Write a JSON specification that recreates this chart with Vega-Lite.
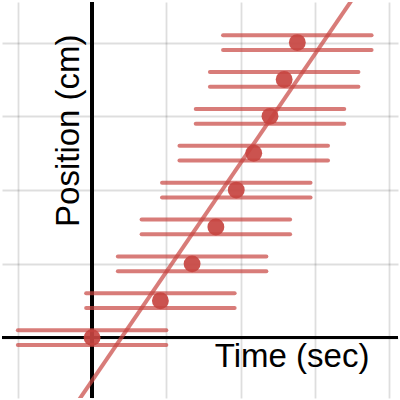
{
  "$schema": "https://vega.github.io/schema/vega-lite/v6.json",
  "width": 400,
  "height": 400,
  "autosize": {"type": "fit", "contains": "padding"},
  "padding": 0,
  "background": "white",
  "config": {"view": {"stroke": null}},
  "datasets": {
    "obs": [
      {"t": 0.0, "pos": 0.0, "tlo": -1.0, "thi": 1.0, "plo": -0.1, "phi": 0.1},
      {"t": 0.92, "pos": 0.5, "tlo": -0.08, "thi": 1.92, "plo": 0.4, "phi": 0.6},
      {"t": 1.347, "pos": 1.0, "tlo": 0.347, "thi": 2.347, "plo": 0.9, "phi": 1.1},
      {"t": 1.667, "pos": 1.5, "tlo": 0.667, "thi": 2.667, "plo": 1.4, "phi": 1.6},
      {"t": 1.942, "pos": 2.0, "tlo": 0.942, "thi": 2.942, "plo": 1.9, "phi": 2.1},
      {"t": 2.177, "pos": 2.5, "tlo": 1.177, "thi": 3.177, "plo": 2.4, "phi": 2.6},
      {"t": 2.396, "pos": 3.0, "tlo": 1.396, "thi": 3.396, "plo": 2.9, "phi": 3.1},
      {"t": 2.587, "pos": 3.5, "tlo": 1.587, "thi": 3.587, "plo": 3.4, "phi": 3.6},
      {"t": 2.764, "pos": 4.0, "tlo": 1.764, "thi": 3.764, "plo": 3.9, "phi": 4.1}
    ],
    "fit": [
      {"t": -0.2, "pos": -0.878},
      {"t": 3.6, "pos": 4.727}
    ]
  },
  "layer": [
    {
      "data": {"name": "obs"},
      "mark": {"type": "rule", "color": "black", "strokeWidth": 3},
      "encoding": {
        "x": {
          "datum": 0, "type": "quantitative",
          "scale": {"domain": [-1.2133, 4.12], "nice": false, "zero": false},
          "axis": {"values": [-1, 0, 1, 2, 3, 4], "grid": true, "domain": false, "ticks": false, "labels": false, "title": null, "gridColor": "#000000", "gridOpacity": 0.13, "gridWidth": 1.8}
        }
      }
    },
    {
      "data": {"name": "obs"},
      "mark": {"type": "rule", "color": "black", "strokeWidth": 3},
      "encoding": {
        "y": {
          "datum": 0, "type": "quantitative",
          "scale": {"domain": [-0.8188, 4.55], "nice": false, "zero": false},
          "axis": {"values": [0, 1, 2, 3, 4], "grid": true, "domain": false, "ticks": false, "labels": false, "title": null, "gridColor": "#000000", "gridOpacity": 0.13, "gridWidth": 1.8}
        }
      }
    },
    {
      "data": {"name": "obs"},
      "mark": {"type": "rule", "color": "#c74440", "opacity": 0.7, "strokeWidth": 4, "strokeCap": "round"},
      "encoding": {
        "x": {"field": "tlo", "type": "quantitative"},
        "x2": {"field": "thi"},
        "y": {"field": "phi", "type": "quantitative"}
      }
    },
    {
      "data": {"name": "obs"},
      "mark": {"type": "rule", "color": "#c74440", "opacity": 0.7, "strokeWidth": 4, "strokeCap": "round"},
      "encoding": {
        "x": {"field": "tlo", "type": "quantitative"},
        "x2": {"field": "thi"},
        "y": {"field": "plo", "type": "quantitative"}
      }
    },
    {
      "data": {"name": "obs"},
      "mark": {"type": "circle", "color": "#c74440", "opacity": 0.92, "size": 285},
      "encoding": {
        "x": {"field": "t", "type": "quantitative"},
        "y": {"field": "pos", "type": "quantitative"}
      }
    },
    {
      "data": {"name": "fit"},
      "mark": {"type": "line", "color": "#c74440", "opacity": 0.7, "strokeWidth": 4, "clip": true},
      "encoding": {
        "x": {"field": "t", "type": "quantitative"},
        "y": {"field": "pos", "type": "quantitative"}
      }
    },
    {
      "data": {"values": [{}]},
      "mark": {"type": "text", "text": "Time (sec)", "font": "Liberation Sans", "fontSize": 33, "align": "left", "baseline": "alphabetic", "color": "black"},
      "encoding": {
        "x": {"datum": 1.653, "type": "quantitative"},
        "y": {"datum": -0.403, "type": "quantitative"}
      }
    },
    {
      "data": {"values": [{}]},
      "mark": {"type": "text", "text": "Position (cm)", "font": "Liberation Sans", "fontSize": 33, "align": "center", "baseline": "alphabetic", "angle": 270, "color": "black"},
      "encoding": {
        "x": {"datum": -0.173, "type": "quantitative"},
        "y": {"datum": 2.805, "type": "quantitative"}
      }
    }
  ]
}
